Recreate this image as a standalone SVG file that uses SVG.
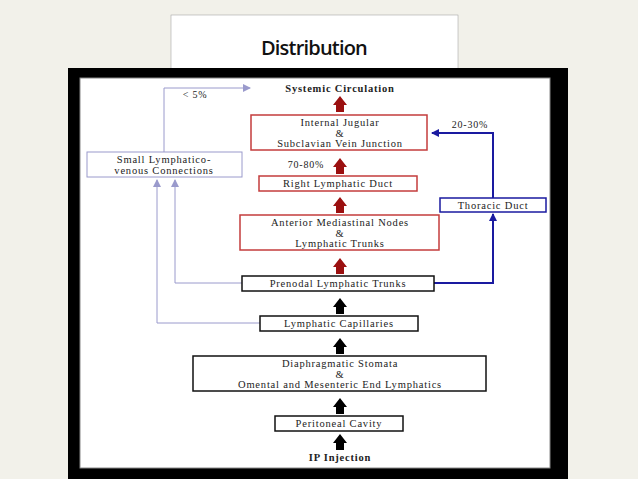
<svg xmlns="http://www.w3.org/2000/svg" width="638" height="479" viewBox="0 0 638 479">
<defs>
<style>
text{font-family:"Liberation Serif",serif;font-size:10.5px;fill:#222;text-anchor:middle;letter-spacing:0.8px}
.b{font-weight:bold}
.r{fill:#fff;stroke:#c43c3c;stroke-width:1.5}
.k{fill:#fff;stroke:#111;stroke-width:1.5}
.l{fill:none;stroke:#9a9acc;stroke-width:1}
.bl{fill:none;stroke:#1a1aa0;stroke-width:2}
</style>
<marker id="la" markerWidth="8" markerHeight="8" refX="7" refY="4" orient="auto" markerUnits="userSpaceOnUse"><path d="M0,0L8,4L0,8z" fill="#9a9acc"/></marker>
<marker id="ba" markerWidth="8" markerHeight="8" refX="7" refY="4" orient="auto" markerUnits="userSpaceOnUse"><path d="M0,0L8,4L0,8z" fill="#1a1aa0"/></marker>
<path id="up" d="M-4,0V-7H-7L0,-16L7,-7H4V0Z"/>
</defs>
<rect width="638" height="479" fill="#f2f1ea"/>
<rect x="171" y="15" width="287" height="60" fill="#fff" stroke="#999" stroke-width="0.5"/>
<text x="314" y="55" style="font-family:'Open Sans',sans-serif;font-size:20px;fill:#111;letter-spacing:-0.8px;font-weight:600">Distribution</text>
<rect x="68" y="68" width="500" height="411" fill="#000"/>
<rect x="80" y="78" width="470" height="390" fill="#fff" stroke="#888"/>
<g id="connectors">
<use href="#up" x="340" y="112" fill="#9b1010"/>
<use href="#up" x="340" y="174" fill="#9b1010"/>
<use href="#up" x="340" y="213" fill="#9b1010"/>
<use href="#up" x="340" y="274" fill="#9b1010"/>
<use href="#up" x="340" y="314" fill="#000"/>
<use href="#up" x="340" y="354" fill="#000"/>
<use href="#up" x="340" y="414" fill="#000"/>
<use href="#up" x="340" y="450" fill="#000"/>
<path class="l" d="M164,152V88H250" marker-end="url(#la)"/>
<path class="l" d="M260,323H157V180" marker-end="url(#la)"/>
<path class="l" d="M242,283H175V180" marker-end="url(#la)"/>
<path class="bl" d="M434,283H493V214" marker-end="url(#ba)"/>
<path class="bl" d="M493,198V133H432" marker-end="url(#ba)"/>
<text x="195" y="98" style="font-size:10px">&lt; 5%</text>
<text x="470" y="128" style="font-size:10px">20-30%</text>
<text x="306" y="168" style="font-size:10px">70-80%</text>
</g>
<g id="systemic"><text class="b" x="340" y="92">Systemic Circulation</text></g>
<g id="jugular"><rect class="r" x="251" y="115" width="176" height="35"/><text x="340" y="126">Internal Jugular</text><text x="340" y="136.5">&amp;</text><text x="340" y="147">Subclavian Vein Junction</text></g>
<g id="rld"><rect class="r" x="259" y="176" width="158" height="15"/><text x="338" y="187">Right Lymphatic Duct</text></g>
<g id="amn"><rect class="r" x="240" y="215" width="199" height="35"/><text x="340" y="226">Anterior Mediastinal Nodes</text><text x="340" y="236.5">&amp;</text><text x="340" y="247">Lymphatic Trunks</text></g>
<g id="prenodal"><rect class="k" x="242" y="276" width="192" height="15"/><text x="338" y="287">Prenodal Lymphatic Trunks</text></g>
<g id="capillaries"><rect class="k" x="260" y="316" width="158" height="15"/><text x="339" y="327">Lymphatic Capillaries</text></g>
<g id="stomata"><rect class="k" x="193" y="356" width="293" height="35"/><text x="340" y="367">Diaphragmatic Stomata</text><text x="340" y="377.5">&amp;</text><text x="340" y="388">Omental and Mesenteric End Lymphatics</text></g>
<g id="peritoneal"><rect class="k" x="275" y="416" width="128" height="15"/><text x="339" y="427">Peritoneal Cavity</text></g>
<g id="ip"><text class="b" x="340" y="461">IP Injection</text></g>
<g id="small"><rect x="87" y="152" width="155" height="25" fill="#fff" stroke="#9a9acc"/><text x="164" y="163">Small Lymphatico-</text><text x="164" y="174">venous Connections</text></g>
<g id="thoracic"><rect x="440" y="198" width="106" height="14" fill="#fff" stroke="#1a1aa0" stroke-width="1.5"/><text x="493" y="209">Thoracic Duct</text></g>
</svg>
